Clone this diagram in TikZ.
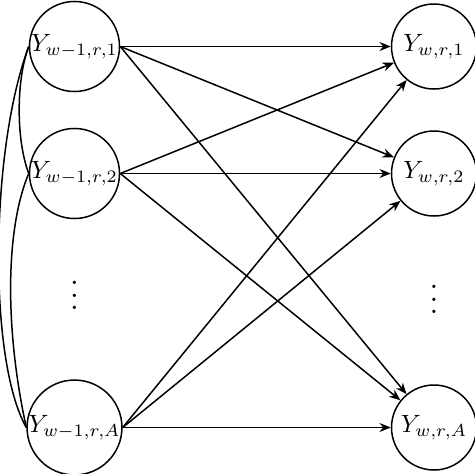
\documentclass[tikz,border=0pt]{standalone}
\usetikzlibrary{arrows.meta}
\begin{document}
\begin{tikzpicture}[x=0.4pt,y=-0.4pt,
  state/.style={circle,draw,line width=0.6pt,minimum size=34pt,inner sep=0pt,font=\normalsize},
  dotsnode/.style={inner sep=0pt,scale=1.25},
  arr/.style={-{Stealth[length=4.5pt,width=3.6pt]},line width=0.6pt},
  link/.style={line width=0.6pt}]
\useasboundingbox (0,0) rectangle (474,474);
\node[state] (l1) at (74.5,46.5) {$Y_{w-1,r,1}$};
\node[state] (l2) at (74.5,173.5) {$Y_{w-1,r,2}$};
\node[state] (lA) at (74.5,427.5) {$Y_{w-1,r,A}$};
\node[state] (r1) at (434,46.5) {$Y_{w,r,1}$};
\node[state] (r2) at (434,173.5) {$Y_{w,r,2}$};
\node[state] (rA) at (434,427.5) {$Y_{w,r,A}$};
\node[dotsnode] (dl) at (74.5,286) {$\vdots$};
\node[dotsnode] (dr) at (434,290) {$\vdots$};
\foreach \a in {l1,l2,lA}{
  \foreach \b in {r1,r2,rA}{
    \draw[arr] (\a.east) -- (\b);
  }
}
\draw[link] (l1.west) .. controls (16,80) and (16,140) .. (l2.west);
\draw[link] (l1.west) .. controls (-10,150) and (-12,360) .. (lA.west);
\draw[link] (l2.west) .. controls (5,230) and (5,330) .. (lA.west);
\end{tikzpicture}
\end{document}
